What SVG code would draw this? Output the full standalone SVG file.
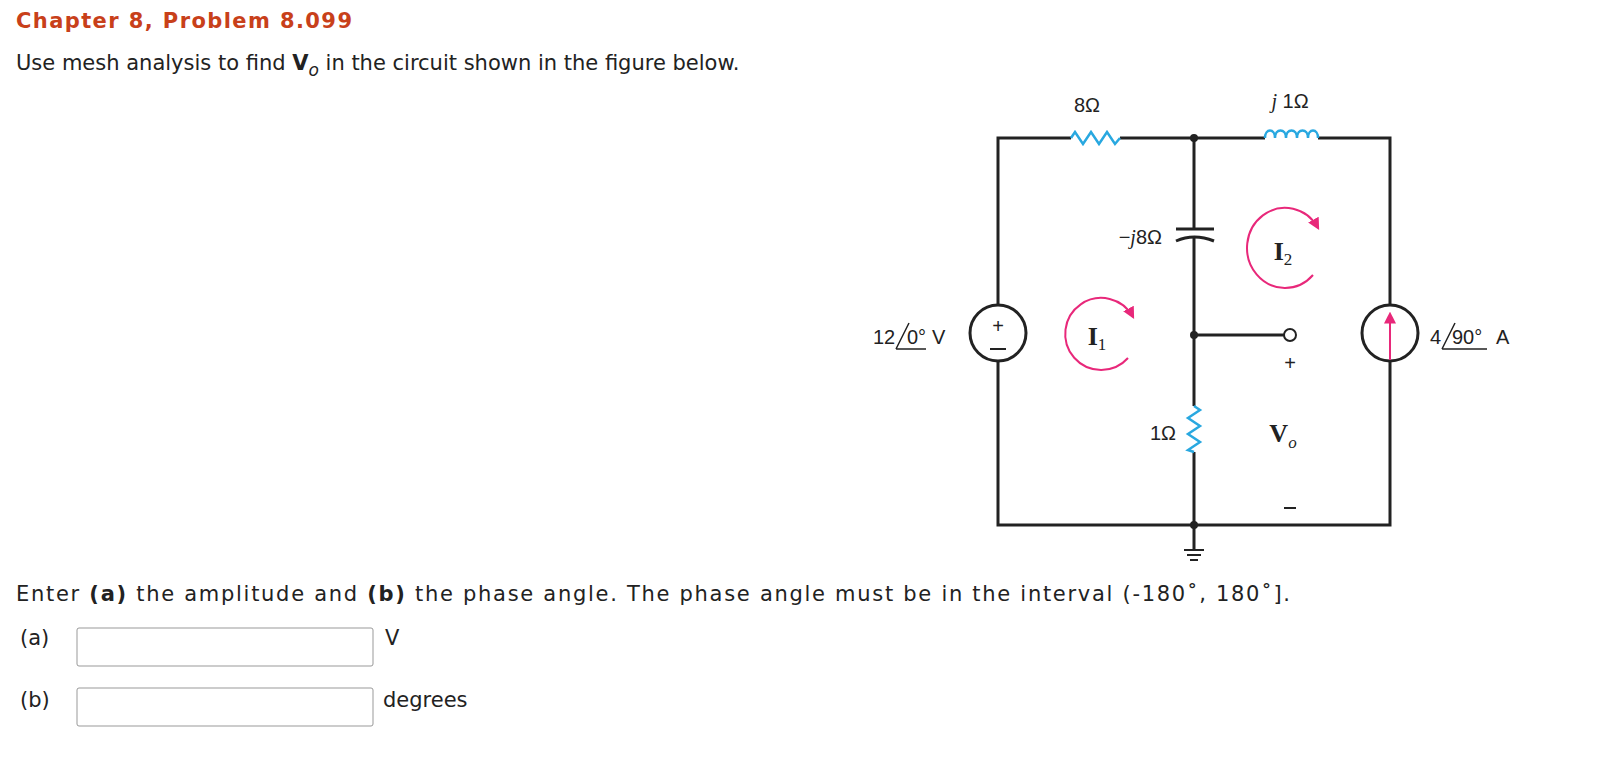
<svg xmlns="http://www.w3.org/2000/svg" width="1606" height="764" viewBox="0 0 1606 764">
<style>
.t{font-family:"DejaVu Sans",Verdana,sans-serif;font-size:21px;fill:#222}
.c{font-family:"Liberation Sans",Arial,sans-serif;font-size:20px;fill:#222}
.s{font-family:"Liberation Serif","Times New Roman",serif;font-size:26px;font-weight:bold;fill:#222}
.w{stroke:#222;stroke-width:3;fill:none}
.b{stroke:#29a8e0;stroke-width:2.5;fill:none}
.m{stroke:#e8287a;stroke-width:2;fill:none}
.box{fill:#fff;stroke:#999;stroke-width:1}
</style>
<defs>
<marker id="ah" viewBox="0 0 10 10" refX="8" refY="5" markerWidth="6" markerHeight="6" orient="auto"><path d="M0,0L10,5L0,10z" fill="#e8287a"/></marker>
</defs>
<rect width="1606" height="764" fill="#fff"/>
<text x="16" y="28" class="t" style="fill:#c8401a;font-weight:bold" textLength="336">Chapter 8, Problem 8.099</text>
<text x="16" y="70" class="t">Use mesh analysis to find <tspan font-weight="bold">V</tspan><tspan font-size="17" dy="6" font-style="italic">o</tspan><tspan dy="-6"> in the circuit shown in the figure below.</tspan></text>

<g id="connectors">
<path class="w" d="M1071,138H998V305M998,361V525H1390V361M1390,305V138H1318M1265,138H1120M1194,138V229M1194,237V406M1194,452V525M1194,335H1284M1194,525V550"/>
</g>
<g id="r8"><path class="b" d="M1071,138l4,-6l8,12l8,-12l8,12l8,-12l8,12l5,-6"/><text x="1087" y="112" class="c" text-anchor="middle">8Ω</text></g>
<g id="l1"><path class="b" d="M1265,138c0,-10 10,-10 10,0c0,-10 11,-10 11,0c0,-10 11,-10 11,0c0,-10 11,-10 11,0c0,-10 10,-10 10,0"/><text x="1290" y="108" class="c" text-anchor="middle"><tspan font-style="italic" font-family="Liberation Serif,serif">j</tspan> 1Ω</text></g>
<g id="cap"><path class="w" d="M1176,229H1214"/><path class="w" d="M1176,241q18,-8 38,0"/><text x="1162" y="244" class="c" text-anchor="end">−<tspan font-style="italic" font-family="Liberation Serif,serif">j</tspan>8Ω</text></g>
<g id="r1"><path class="b" d="M1194,406l6,4l-12,8l12,8l-12,8l12,8l-12,8l6,2"/><text x="1176" y="440" class="c" text-anchor="end">1Ω</text></g>
<g id="vs"><circle cx="998" cy="333" r="28" fill="#fff" class="w"/><text x="998" y="333" class="c" font-size="24" text-anchor="middle">+</text><path d="M990,349H1006" stroke="#222" stroke-width="2"/>
<text x="873" y="344" class="c">12</text><path d="M896,349L909,323M896,349H926" stroke="#222" stroke-width="1.5"/><text x="907" y="344" class="c">0°</text><text x="932" y="344" class="c">V</text></g>
<g id="is"><circle cx="1390" cy="333" r="28" fill="#fff" class="w"/><path class="m" d="M1390,360V314" marker-end="url(#ah)"/>
<text x="1430" y="344" class="c">4</text><path d="M1442,349L1455,323M1442,349H1487" stroke="#222" stroke-width="1.5"/><text x="1452" y="344" class="c">90°</text><text x="1496" y="344" class="c">A</text></g>
<g id="mesh1"><path class="m" d="M1128,358A36,36 0 1 1 1133,317" marker-end="url(#ah)"/><text x="1097" y="345" class="s" text-anchor="middle">I<tspan font-size="17" dy="5" font-weight="normal">1</tspan></text></g>
<g id="mesh2"><path class="m" d="M1313,275A38,40 0 1 1 1318,228" marker-end="url(#ah)"/><text x="1283" y="260" class="s" text-anchor="middle">I<tspan font-size="17" dy="5" font-weight="normal">2</tspan></text></g>
<g id="vo"><circle cx="1290" cy="335" r="6" fill="#fff" stroke="#222" stroke-width="2"/><text x="1290" y="370" class="c" text-anchor="middle">+</text>
<text x="1283" y="442" class="s" text-anchor="middle">V<tspan font-size="17" dy="6" font-style="italic" font-weight="normal">o</tspan></text><path d="M1284,508H1296" stroke="#222" stroke-width="2"/></g>
<g id="gnd"><circle cx="1194" cy="525" r="4" fill="#222"/><circle cx="1194" cy="138" r="4" fill="#222"/><circle cx="1194" cy="335" r="4" fill="#222"/><path d="M1184,550H1204M1187,555H1201M1190,560H1198" stroke="#222" stroke-width="2"/></g>

<text x="16" y="601" class="t" textLength="1274">Enter <tspan font-weight="bold">(a)</tspan> the amplitude and <tspan font-weight="bold">(b)</tspan> the phase angle. The phase angle must be in the interval (-180˚, 180˚].</text>
<text x="20" y="645" class="t">(a)</text>
<rect x="77" y="628" width="296" height="38" rx="2" class="box"/>
<text x="385" y="645" class="t">V</text>
<text x="20" y="707" class="t">(b)</text>
<rect x="77" y="688" width="296" height="38" rx="2" class="box"/>
<text x="383" y="707" class="t">degrees</text>
</svg>
